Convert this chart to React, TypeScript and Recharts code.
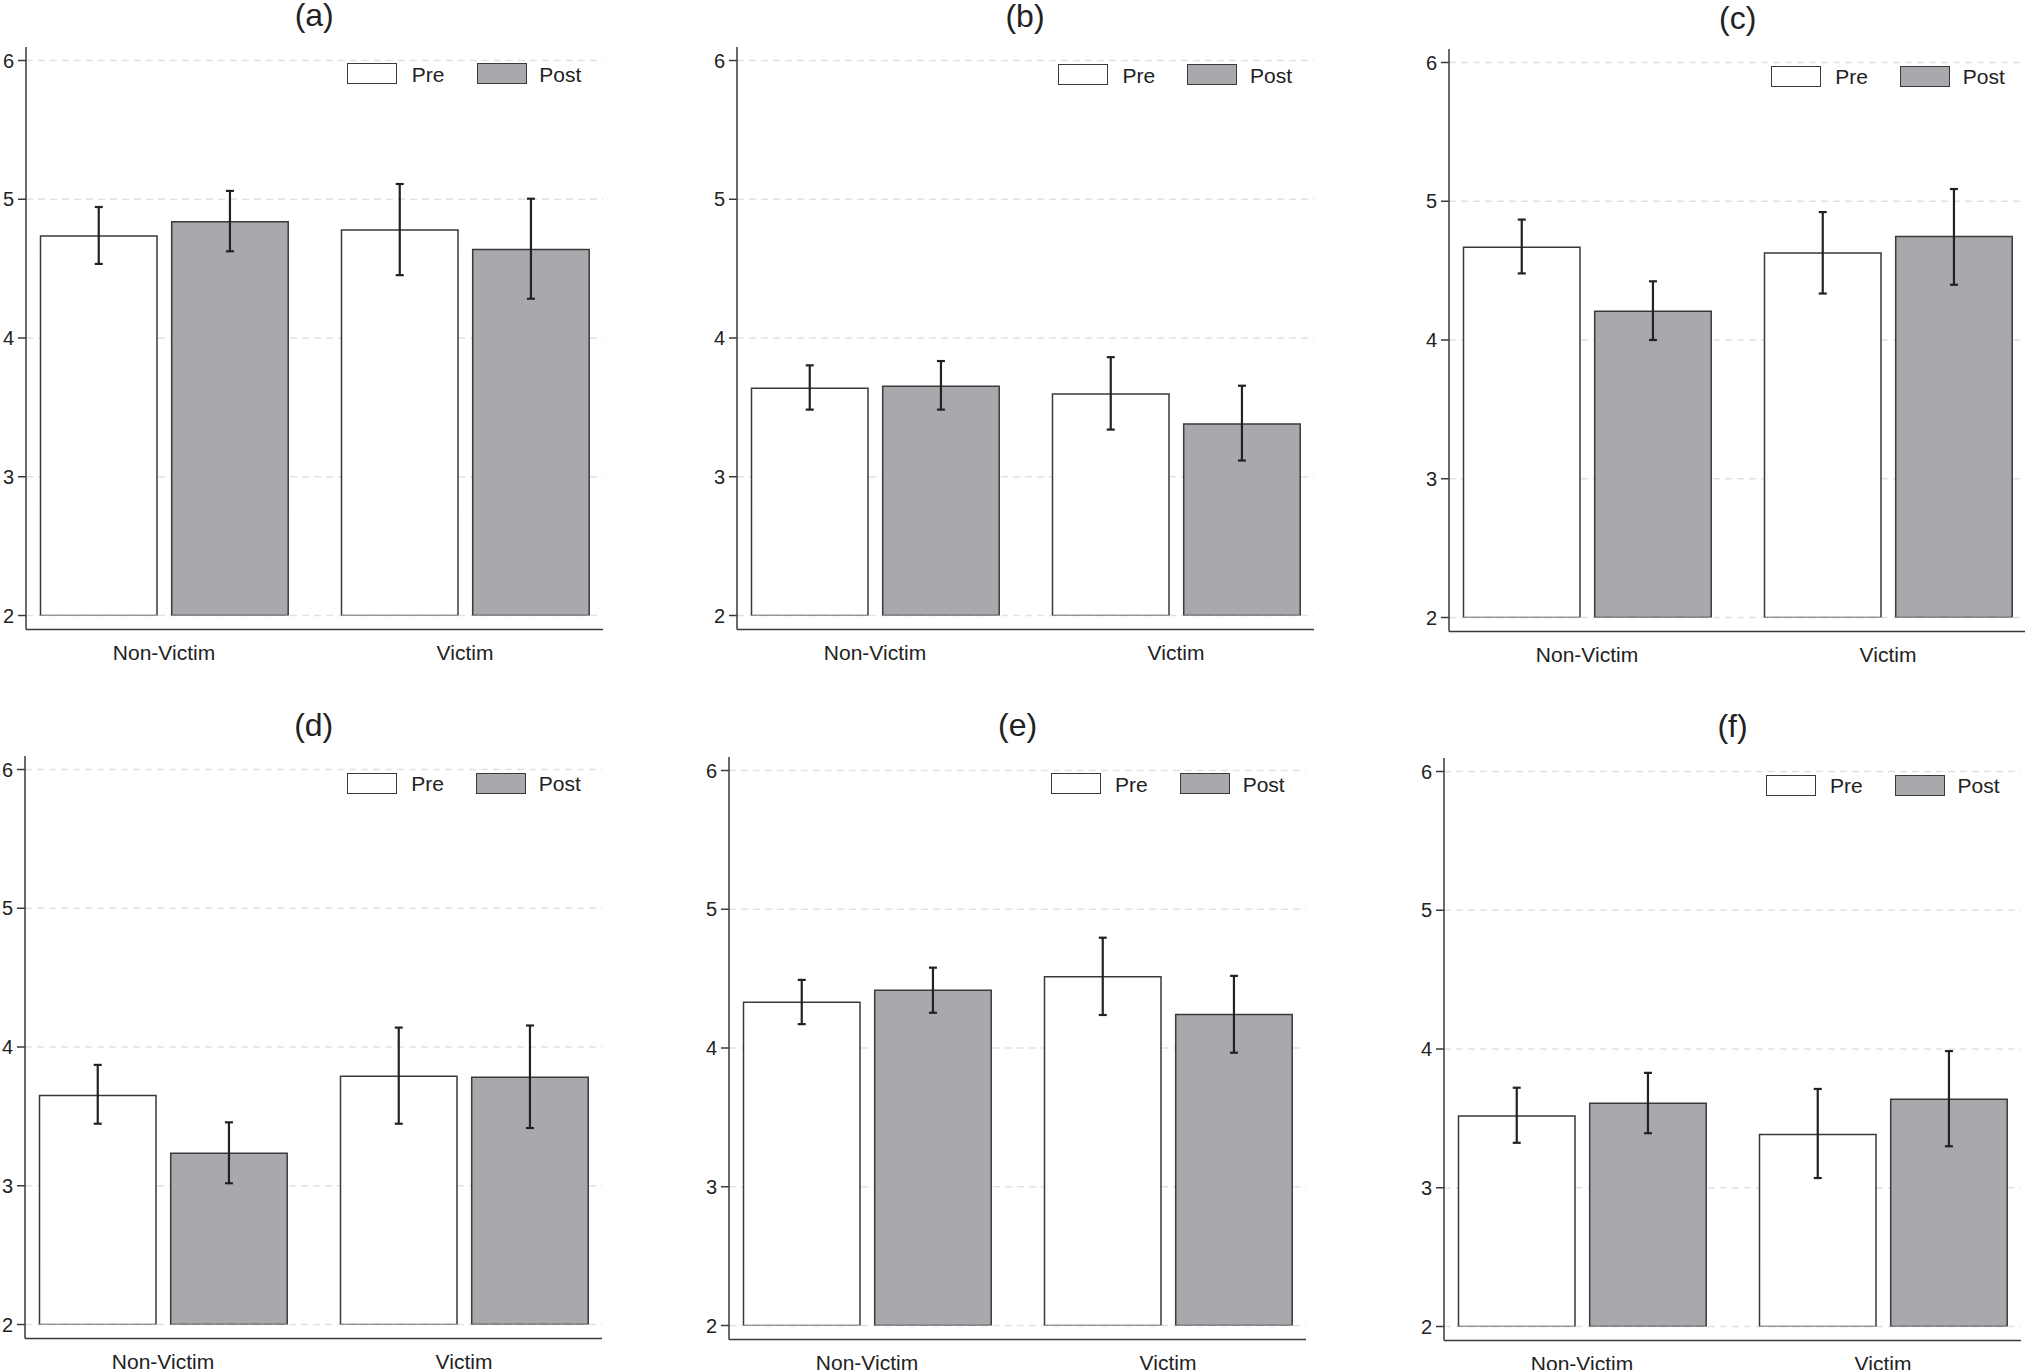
import React from 'react';
import { BarChart, Bar, XAxis, YAxis, CartesianGrid, ErrorBar, Legend } from 'recharts';

const CATEGORIES = ['Non-Victim', 'Victim'];
const SERIES_NAMES = ['Pre', 'Post'];
const Y_TICKS = [2, 3, 4, 5, 6];
const PANEL_TITLES = ['(a)', '(b)', '(c)', '(d)', '(e)', '(f)'];

// panel (a)
const A_PRE = [4.735, 4.778];
const A_PRE_CI = [[4.534, 4.944], [4.453, 5.11]];
const A_POST = [4.838, 4.637];
const A_POST_CI = [[4.625, 5.06], [4.283, 5.004]];
// panel (b)
const B_PRE = [3.637, 3.596];
const B_PRE_CI = [[3.484, 3.803], [3.34, 3.862]];
const B_POST = [3.653, 3.38];
const B_POST_CI = [[3.484, 3.834], [3.117, 3.656]];
// panel (c)
const C_PRE = [4.668, 4.627];
const C_PRE_CI = [[4.48, 4.868], [4.335, 4.922]];
const C_POST = [4.207, 4.746];
const C_POST_CI = [[4.0, 4.423], [4.398, 5.088]];
// panel (d)
const D_PRE = [3.651, 3.789];
const D_PRE_CI = [[3.447, 3.871], [3.447, 4.14]];
const D_POST = [3.234, 3.782];
const D_POST_CI = [[3.018, 3.457], [3.416, 4.155]];
// panel (e)
const E_PRE = [4.329, 4.513];
const E_PRE_CI = [[4.172, 4.491], [4.238, 4.795]];
const E_POST = [4.416, 4.241];
const E_POST_CI = [[4.254, 4.579], [3.966, 4.52]];
// panel (f)
const F_PRE = [3.518, 3.383];
const F_PRE_CI = [[3.324, 3.721], [3.07, 3.712]];
const F_POST = [3.609, 3.637];
const F_POST_CI = [[3.393, 3.828], [3.299, 3.985]];

const PANEL_DATA = [
  [A_PRE, A_PRE_CI, A_POST, A_POST_CI],
  [B_PRE, B_PRE_CI, B_POST, B_POST_CI],
  [C_PRE, C_PRE_CI, C_POST, C_POST_CI],
  [D_PRE, D_PRE_CI, D_POST, D_POST_CI],
  [E_PRE, E_PRE_CI, E_POST, E_POST_CI],
  [F_PRE, F_PRE_CI, F_POST, F_POST_CI],
];

function buildRows(pre: number[], preCi: number[][], post: number[], postCi: number[][]) {
  return CATEGORIES.map((c, i) => ({
    category: c,
    pre: pre[i],
    post: post[i],
    preErr: [pre[i] - preCi[i][0], preCi[i][1] - pre[i]],
    postErr: [post[i] - postCi[i][0], postCi[i][1] - post[i]],
  }));
}

// layout (plot left edge x, y of the "6" tick)
const LAYOUT = [
  { left: 25.7, t6: 60 },
  { left: 736.5, t6: 60.9 },
  { left: 1449.2, t6: 62.6 },
  { left: 25.2, t6: 769.6 },
  { left: 729.1, t6: 770 },
  { left: 1444, t6: 771.3 },
];

const FONT = '"Liberation Sans", Arial, Helvetica, sans-serif';
const Y_AXIS_W = 60;
const PLOT_W = 577;
const M_TOP = 10;
const PAD_TOP = 13.5;
const SPAN = 555;
const PAD_BOTTOM = 14;
const X_AXIS_H = 50;
const CHART_H = M_TOP + PAD_TOP + SPAN + PAD_BOTTOM + X_AXIS_H;
const CHART_W = Y_AXIS_W + PLOT_W + 2;

const PRE_FILL = '#ffffff';
const POST_FILL = '#a8a9ad';
const EDGE = '#3a3a3a';
const INK = '#222222';

const LegendContent = (props: any) => {
  const payload = [...(props.payload || [])].sort(
    (a: any, b: any) => SERIES_NAMES.indexOf(a.value) - SERIES_NAMES.indexOf(b.value)
  );
  const pos = [
    { sw: 0, tx: 64.4 },
    { sw: 129.4, tx: 192 },
  ];
  return (
    <div style={{ position: 'relative', width: 240, height: 22, fontFamily: FONT }}>
      {payload.map((entry: any, i: number) => (
        <React.Fragment key={i}>
          <div
            style={{
              position: 'absolute',
              left: pos[i].sw,
              top: 0,
              width: 50,
              height: 21,
              boxSizing: 'border-box',
              border: `1.5px solid ${EDGE}`,
              background: entry.color,
            }}
          />
          <div
            style={{
              position: 'absolute',
              left: pos[i].tx,
              top: 0.6,
              fontSize: 21,
              lineHeight: '21px',
              color: INK,
              whiteSpace: 'nowrap',
            }}
          >
            {entry.value}
          </div>
        </React.Fragment>
      ))}
    </div>
  );
};

function Panel({ idx }: { idx: number }) {
  const [pre, preCi, post, postCi] = PANEL_DATA[idx] as any;
  const rows = buildRows(pre, preCi, post, postCi);
  const { left, t6 } = LAYOUT[idx];
  const chartLeft = left - Y_AXIS_W;
  const chartTop = t6 - PAD_TOP - M_TOP;
  return (
    <>
      <div
        style={{
          position: 'absolute',
          left: left + PLOT_W / 2 - 60,
          width: 120,
          top: t6 - 61,
          textAlign: 'center',
          fontFamily: FONT,
          fontSize: 32,
          lineHeight: '32px',
          color: INK,
        }}
      >
        {PANEL_TITLES[idx]}
      </div>
      <div style={{ position: 'absolute', left: chartLeft, top: chartTop }}>
        <BarChart
          width={CHART_W}
          height={CHART_H}
          data={rows}
          margin={{ top: M_TOP, right: 2, bottom: 0, left: 0 }}
          barSize={116.5}
          barGap={14.7}
        >
          <CartesianGrid
            vertical={false}
            stroke="#e2e2e2"
            strokeWidth={1.5}
            strokeDasharray="7 5"
            syncWithTicks
          />
          <XAxis
            dataKey="category"
            height={X_AXIS_H}
            padding={{ left: -12.5, right: -12.5 }}
            tickLine={false}
            tickSize={0}
            tickMargin={15.5}
            axisLine={{ stroke: EDGE, strokeWidth: 1.5 }}
            tick={{ fill: INK, fontSize: 21, fontFamily: FONT }}
            interval={0}
          />
          <YAxis
            width={Y_AXIS_W}
            domain={[2, 6]}
            ticks={Y_TICKS}
            allowDataOverflow
            padding={{ top: PAD_TOP, bottom: PAD_BOTTOM }}
            tickSize={8}
            tickMargin={4}
            axisLine={{ stroke: EDGE, strokeWidth: 1.5 }}
            tickLine={{ stroke: EDGE, strokeWidth: 1.5 }}
            tick={{ fill: INK, fontSize: 20, fontFamily: FONT }}
          />
          <Legend
            layout="horizontal"
            verticalAlign="middle"
            align="center"
            content={<LegendContent />}
            wrapperStyle={{ left: Y_AXIS_W + 321.6, top: M_TOP + PAD_TOP + 3.3, width: 'auto', height: 'auto' }}
          />
          <Bar dataKey="pre" name={SERIES_NAMES[0]} fill={PRE_FILL} stroke={EDGE} strokeWidth={1.5} isAnimationActive={false}>
            <ErrorBar dataKey="preErr" width={4} stroke={INK} strokeWidth={2.2} direction="y" isAnimationActive={false} />
          </Bar>
          <Bar dataKey="post" name={SERIES_NAMES[1]} fill={POST_FILL} stroke={EDGE} strokeWidth={1.5} isAnimationActive={false}>
            <ErrorBar dataKey="postErr" width={4} stroke={INK} strokeWidth={2.2} direction="y" isAnimationActive={false} />
          </Bar>
        </BarChart>
      </div>
    </>
  );
}

export default function App() {
  return (
    <div
      style={{
        position: 'absolute',
        left: 0,
        top: 0,
        width: 2025,
        height: 1370,
        overflow: 'hidden',
        background: '#ffffff',
      }}
    >
      {PANEL_TITLES.map((_, i) => (
        <Panel key={i} idx={i} />
      ))}
    </div>
  );
}
